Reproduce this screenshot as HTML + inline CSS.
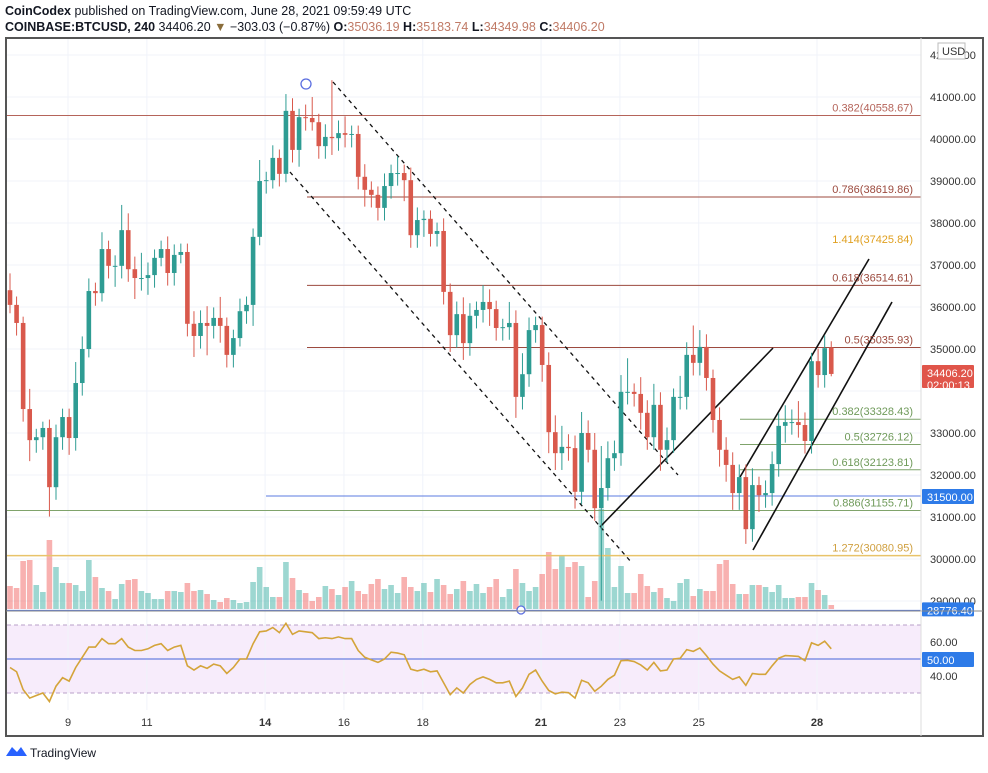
<!DOCTYPE html>
<html><head><meta charset="utf-8"><style>
body{margin:0;background:#fff;width:988px;height:768px;overflow:hidden;font-family:"Liberation Sans",sans-serif}
svg text{font-family:"Liberation Sans",sans-serif}
</style></head><body>
<svg id="c" width="988" height="768" xmlns="http://www.w3.org/2000/svg">
<text x="5" y="15" font-size="12.5" fill="#131722"><tspan font-weight="bold">CoinCodex</tspan> published on TradingView.com, June 28, 2021 09:59:49 UTC</text>
<text x="5" y="31" font-size="12.5" fill="#131722"><tspan font-weight="bold">COINBASE:BTCUSD, 240</tspan> 34406.20 <tspan fill="#8a6d3b">▼</tspan> −303.03 (−0.87%) <tspan font-weight="bold">O:</tspan><tspan fill="#c07a66">35036.19</tspan> <tspan font-weight="bold">H:</tspan><tspan fill="#c07a66">35183.74</tspan> <tspan font-weight="bold">L:</tspan><tspan fill="#c07a66">34349.98</tspan> <tspan font-weight="bold">C:</tspan><tspan fill="#c07a66">34406.20</tspan></text>
<rect x="7" y="625" width="914" height="68" fill="rgba(200,120,230,0.14)"/>
<g id="grid"></g>
<g id="vol"></g>
<g id="lines"></g>
<g id="candles"></g>
<g id="rsi"></g>
<g id="axis"></g>
<rect x="6" y="38" width="977" height="698" fill="none" stroke="#555" stroke-width="2"/>
<line x1="6" y1="611" x2="983" y2="611" stroke="#888" stroke-width="1"/>
<line x1="921" y1="38" x2="921" y2="736" stroke="#ddd"/>
<g><path d="M6 756 l6 -9 l5 5 l4 -5 l6 9 z" fill="#2962ff"/><text x="30" y="757" font-size="12" fill="#131722">TradingView</text></g>
</svg>
<script>
const closes=[36050,35620,33570,32830,32900,33120,31710,32900,33380,32880,34190,35000,36380,36330,37380,36980,36980,37830,36900,36690,36690,36760,37170,37380,36810,37240,37310,35600,35310,35620,35550,35740,35550,34860,35260,35900,36050,37670,39000,39020,39550,39170,40670,39740,40520,40500,40400,39830,40050,40020,40140,40100,40120,39100,38790,38670,38360,38880,39190,39190,39020,37710,38070,38100,37740,37810,36360,35330,35830,35140,35790,35930,36120,35950,35500,35520,35620,33860,34400,35450,35570,34620,33020,32520,32670,32640,31600,33000,32600,31210,31690,32400,32520,33980,33980,33930,33480,32900,33670,32600,32830,33860,33860,34860,34670,35050,34310,33310,32600,32240,31570,31950,30710,31760,31520,31570,32260,33170,33260,33260,33190,32810,34710,34380,35020,34406.2];
const firstOpen=36400;
const lastOpen=35036.19;
const wickUp=[400,200,150,480,200,150,200,300,200,200,500,300,300,200,400,200,250,600,400,300,600,300,200,200,300,250,200,200,300,300,400,250,500,200,200,300,200,200,500,200,300,200,400,300,200,300,500,200,300,1350,300,400,200,200,300,200,200,300,200,400,200,300,300,200,200,200,300,200,300,400,300,200,400,300,200,200,500,300,500,300,200,200,300,400,500,300,300,500,300,400,1000,400,300,400,800,200,400,300,500,300,300,200,500,300,700,400,300,200,300,300,300,300,300,400,200,300,300,300,400,300,500,300,200,300,300,148];
const wickDn=[200,300,300,500,300,300,700,300,300,400,300,300,200,300,200,300,500,300,300,500,300,400,300,200,300,300,200,300,500,300,700,300,400,300,300,200,300,500,200,300,200,300,200,300,400,300,200,300,300,400,300,300,300,300,400,300,300,300,300,300,500,300,300,400,300,300,300,400,300,400,300,300,300,400,300,300,300,500,300,300,300,400,500,400,400,300,400,300,300,300,2200,300,300,300,300,300,400,300,300,500,300,300,300,300,300,300,300,300,400,400,400,400,350,300,400,300,300,300,400,300,300,300,300,300,300,56];
const volumes=[23,21,48,49,24,17,69,42,26,26,24,18,49,32,21,18,10,25,29,30,18,16,10,10,18,18,17,26,18,19,15,9,7,11,9,6,7,27,42,22,12,12,47,31,19,16,8,12,23,20,14,22,28,18,15,25,30,20,24,16,32,22,18,26,17,30,24,15,20,28,18,25,16,22,30,12,20,40,26,18,22,35,57,40,54,42,47,43,12,28,100,61,22,43,16,16,35,23,17,21,11,8,26,30,13,20,18,18,45,49,25,15,15,24,24,22,17,24,11,11,12,12,26,19,14,4];
const rsiVals=[45,42.5,32,27,28.5,30,25,34,39,37,45,51,57,57,62,59,59,62,57,55,55,56,58,59,55,57,58,46,43.5,46,44.5,47,46,41.5,45,50,50,59,66,66.5,68.5,65.5,71,64.5,66.5,66,65.5,62,62.5,62,63,62,62,55,51,49.5,48,50,54,53.5,52.5,44,43,44,42.5,43,36,29,33,30,35,38,39.5,38,36,36,37,28,33,41,43.5,37,31.5,29.5,30.5,30.2,27,37.5,36,31,34,38,40.5,49,49.2,48.5,46.5,43.5,48,43,43.5,50,50.4,55.5,54.5,56.5,52,47,43,40.5,38,39.5,34.5,41.5,41,41,46,50.5,52,51.8,51.5,49,59.5,58,60.5,56];
const priceTicks=[42000,41000,40000,39000,38000,37000,36000,35000,34000,33000,32000,31000,30000,29000];
const dayLabels=["9","11","14","16","18","21","23","25","28"];
const dayNums=[9,11,14,16,18,21,23,25,28];
const rsiTicks=[60,40];

const NS="http://www.w3.org/2000/svg";
const px=i=>10+6.57*i;
const py=p=>349+(35000-p)*0.042;
const ry=v=>659-(v-50)*1.7;
const dayX=d=>px(8.83+(d-9)*6);
function mk(tag,attrs,parent){const e=document.createElementNS(NS,tag);for(const k in attrs)e.setAttribute(k,attrs[k]);parent.appendChild(e);return e;}
const G=id=>document.getElementById(id);

// grid
priceTicks.forEach(t=>{const l=mk('line',{x1:7,x2:921,y1:py(t),y2:py(t),stroke:'#f0f3fa'},G('grid'));

});
dayNums.forEach(d=>{const l=mk('line',{x1:dayX(d),x2:dayX(d),y1:39,y2:710,stroke:'#f0f3fa'},G('grid'));

});

// volume
closes.forEach((c,i)=>{const o=i===0?firstOpen:closes[i-1];const up=c>=o;const h=volumes[i];
const r=mk('rect',{x:px(i)-2.8,y:609-h,width:5.6,height:h,fill:up?'rgba(38,166,154,0.45)':'rgba(239,83,80,0.45)'},G('vol'));

});

// drawings
const L=G('lines');
function hline(x1,p,color,name,w){const l=mk('line',{x1:x1,x2:921,y1:py(p),y2:py(p),stroke:color,'stroke-width':w||1},L);

}
hline(7,40558.67,'#b5645a','fib-0382-high');
hline(307,38619.86,'#9c4a3e','fib-0786');
hline(307,36514.61,'#9c4a3e','fib-0618-high');
hline(307,35035.93,'#9c4a3e','fib-05-high');
hline(740,33328.43,'#7fa36b','fib-0382-low');
hline(740,32726.12,'#7fa36b','fib-05-low');
hline(740,32123.81,'#7fa36b','fib-0618-low');
hline(7,31155.71,'#7fa36b','fib-0886');
hline(7,30080.95,'#e8c36a','fib-1272',1.5);
hline(266,31500,'#5b7be0','support-31500');
hline(7,28776.4,'#5b7be0','line-28776');
function seg(x1,y1,x2,y2,name,dash){const l=mk('line',{x1,y1,x2,y2,stroke:'#111','stroke-width':dash?1.3:1.6},L);if(dash)l.setAttribute('stroke-dasharray','4,4');

}
seg(333,82,678,475,'channel-upper-dashed',true);
seg(290,172,632,563,'channel-lower-dashed',true);
seg(600,527,773,348,'trendline',false);
seg(740,477,869,259,'rising-channel-upper',false);
seg(753,550,892,302,'rising-channel-lower',false);
const circ=mk('circle',{cx:306,cy:84,r:5,fill:'none',stroke:'#5b6ee0','stroke-width':1.3},L);


const c2=mk('circle',{cx:521,cy:610,r:4,fill:'#fff',stroke:'#5b6ee0','stroke-width':1.3},L);


function flabel(txt,p,color,dy){const t=mk('text',{x:913,y:py(p)+(dy||-4),'text-anchor':'end','font-size':11,fill:color},L);t.textContent=txt;

}
flabel('0.382(40558.67)',40558.67,'#b5645a');
flabel('0.786(38619.86)',38619.86,'#9c4a3e');
flabel('1.414(37425.84)',37425.84,'#e0a020');
flabel('0.618(36514.61)',36514.61,'#9c4a3e');
flabel('0.5(35035.93)',35035.93,'#9c4a3e');
flabel('0.382(33328.43)',33328.43,'#6f9a5a');
flabel('0.5(32726.12)',32726.12,'#6f9a5a');
flabel('0.618(32123.81)',32123.81,'#6f9a5a');
flabel('0.886(31155.71)',31155.71,'#6f9a5a');
flabel('1.272(30080.95)',30080.95,'#d0a040');

// candles
closes.forEach((c,i)=>{const o=i===0?firstOpen:(i===closes.length-1?lastOpen:closes[i-1]);const up=c>=o;
const col=up?'#2e9c93':'#d9594c';const hi=Math.max(o,c)+wickUp[i];const lo=Math.min(o,c)-wickDn[i];
const g=mk('g',{},G('candles'));


mk('line',{x1:px(i),x2:px(i),y1:py(hi),y2:py(lo),stroke:col,'stroke-width':1},g);
const yt=py(Math.max(o,c)),yb=py(Math.min(o,c));
mk('rect',{x:px(i)-2.3,y:yt,width:4.6,height:Math.max(1,yb-yt),fill:col},g);});

// rsi
mk('line',{x1:7,x2:921,y1:ry(70),y2:ry(70),stroke:'#b8a0c8','stroke-dasharray':'4,3'},G('rsi'));
mk('line',{x1:7,x2:921,y1:ry(30),y2:ry(30),stroke:'#b8a0c8','stroke-dasharray':'4,3'},G('rsi'));
mk('line',{x1:7,x2:921,y1:ry(50),y2:ry(50),stroke:'#6a7fe0','stroke-width':1.2},G('rsi'));
const pl=mk('polyline',{points:rsiVals.map((v,i)=>px(i)+','+ry(v)).join(' '),fill:'none',stroke:'#d4a43a','stroke-width':1.6},G('rsi'));



// axis labels
const A=G('axis');
priceTicks.forEach(t=>{if(t===34000)return;const tx=mk('text',{x:930,y:py(t)+4,'font-size':11,fill:'#333'},A);tx.textContent=t.toFixed(2);

});
rsiTicks.forEach(t=>{const tx=mk('text',{x:930,y:ry(t)+4,'font-size':11,fill:'#333'},A);tx.textContent=t.toFixed(2);

});
dayLabels.forEach((d,k)=>{const tx=mk('text',{x:dayX(dayNums[k]),y:726,'text-anchor':'middle','font-size':11,fill:'#333','font-weight':(d==='14'||d==='21'||d==='28')?'bold':'normal'},A);tx.textContent=d;

});
function box(y,h,fill,lines,name){const g=mk('g',{},A);


mk('rect',{x:922,y:y,width:52,height:h,fill:fill,rx:1},g);
lines.forEach((s,j)=>{const t=mk('text',{x:927,y:y+12+j*12,'font-size':11,fill:'#fff'},g);t.textContent=s;});}
box(py(34406.2)-9,23,'#e0554a',['34406.20','02:00:13'],'last-price-label');
box(py(31500)-7,15,'#2e7be8',['31500.00'],'level-31500-label');
box(py(28776.4)-8,14,'#2e7be8',['28776.40'],'level-28776-label');
box(ry(50)-7,15,'#2e7be8',['50.00'],'rsi-50-label');
const usd=mk('g',{},A);


mk('rect',{x:938,y:43,width:27,height:16,fill:'#fff',stroke:'#bbb'},usd);
const ut=mk('text',{x:942,y:55,'font-size':11,fill:'#333'},usd);ut.textContent='USD';
</script>
</body></html>
